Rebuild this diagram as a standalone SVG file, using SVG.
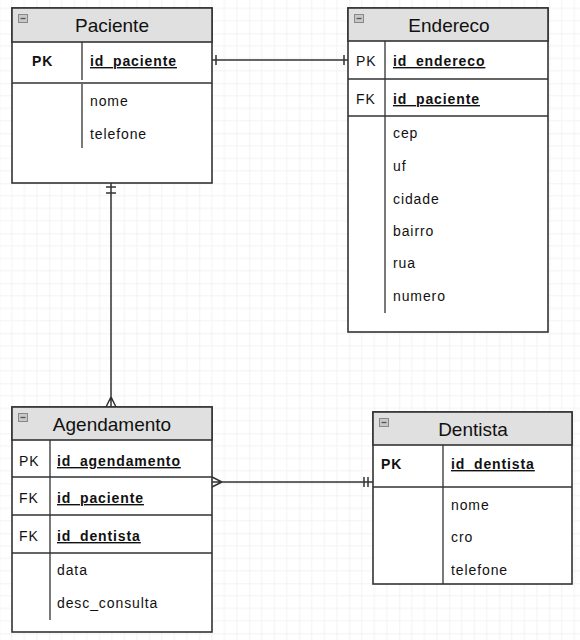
<svg xmlns="http://www.w3.org/2000/svg" width="580" height="640" viewBox="0 0 580 640">
<defs>
<pattern id="grid" x="49.3" y="33.3" width="50" height="50" patternUnits="userSpaceOnUse">
<path d="M12.5 0V50M25 0V50M37.5 0V50M0 12.5H50M0 25H50M0 37.5H50" stroke="#f3f3f3" stroke-width="1" fill="none"/>
<path d="M0 0V50M0 0H50" stroke="#e6e6e6" stroke-width="1" fill="none"/>
</pattern>
</defs>
<style>
.box{fill:#fff;stroke:#333;stroke-width:1.6}
.hdr{fill:#e0e0e0;stroke:#333;stroke-width:1.6}
.ln{stroke:#333;stroke-width:1.6;fill:none}
.div{stroke:#333;stroke-width:1.3;fill:none}
.ttl{font-family:"Liberation Sans",Arial,sans-serif;font-size:19px;fill:#111;text-anchor:middle}
.t{font-family:"Liberation Sans",Arial,sans-serif;font-size:14px;fill:#111;letter-spacing:0.9px}
.b{font-weight:bold}
.u{text-decoration:underline}
.ico{fill:#c8c8c8;stroke:#888;stroke-width:1}
.con{stroke:#333;stroke-width:1.5;fill:none}
</style>
<rect width="580" height="640" fill="#fff"/>
<rect width="580" height="640" fill="url(#grid)"/>

<g id="connectors">
<path class="con" d="M212 60H348M216 55V65M344 55V65"/>
<path class="con" d="M111 183V407M106 187H116M106 193H116M106 407L111 397L116 407"/>
<path class="con" d="M212 482H373M212 477L222 482L212 487M364 477V487M368 477V487"/>
</g>

<g id="paciente">
<rect class="box" x="12" y="8" width="200" height="175"/>
<rect class="hdr" x="12" y="8" width="200" height="34"/>
<rect class="ico" x="18.5" y="14.5" width="9" height="8"/><path d="M20.5 18.5H25.5" stroke="#555" stroke-width="1.3"/>
<text class="ttl" x="112" y="32">Paciente</text>
<path class="ln" d="M12 83H212"/>
<path class="div" d="M82 42V80M82 84V148"/>
<text class="t b" x="32" y="66">PK</text>
<text class="t b u" x="90" y="66">id_paciente</text>
<text class="t" x="90" y="106">nome</text>
<text class="t" x="90" y="139">telefone</text>
</g>

<g id="endereco">
<rect class="box" x="348" y="8" width="200" height="324"/>
<rect class="hdr" x="348" y="8" width="200" height="33"/>
<rect class="ico" x="354.5" y="14.5" width="9" height="8"/><path d="M356.5 18.5H361.5" stroke="#555" stroke-width="1.3"/>
<text class="ttl" x="449" y="32">Endereco</text>
<path class="ln" d="M348 79H548M348 116H548"/>
<path class="div" d="M385 41V116M385 116V313"/>
<text class="t" x="356" y="66">PK</text>
<text class="t b u" x="393" y="66">id_endereco</text>
<text class="t" x="356" y="104">FK</text>
<text class="t b u" x="393" y="104">id_paciente</text>
<text class="t" x="393" y="138">cep</text>
<text class="t" x="393" y="171">uf</text>
<text class="t" x="393" y="204">cidade</text>
<text class="t" x="393" y="236">bairro</text>
<text class="t" x="393" y="268">rua</text>
<text class="t" x="393" y="301">numero</text>
</g>

<g id="agendamento">
<rect class="box" x="12" y="407" width="200" height="225"/>
<rect class="hdr" x="12" y="407" width="200" height="33"/>
<rect class="ico" x="18.5" y="413.5" width="9" height="8"/><path d="M20.5 417.5H25.5" stroke="#555" stroke-width="1.3"/>
<text class="ttl" x="112" y="431">Agendamento</text>
<path class="ln" d="M12 477H212M12 515H212M12 553H212"/>
<path class="div" d="M50 440V553M50 553V620"/>
<text class="t" x="19" y="466">PK</text>
<text class="t b u" x="57" y="466">id_agendamento</text>
<text class="t" x="19" y="503">FK</text>
<text class="t b u" x="57" y="503">id_paciente</text>
<text class="t" x="19" y="541">FK</text>
<text class="t b u" x="57" y="541">id_dentista</text>
<text class="t" x="57" y="575">data</text>
<text class="t" x="57" y="608">desc_consulta</text>
</g>

<g id="dentista">
<rect class="box" x="373" y="412" width="199" height="172"/>
<rect class="hdr" x="373" y="412" width="199" height="33"/>
<rect class="ico" x="379.5" y="418.5" width="9" height="8"/><path d="M381.5 422.5H386.5" stroke="#555" stroke-width="1.3"/>
<text class="ttl" x="473" y="436">Dentista</text>
<path class="ln" d="M373 487H572"/>
<path class="div" d="M443 445V584"/>
<text class="t b" x="381" y="469">PK</text>
<text class="t b u" x="451" y="469">id_dentista</text>
<text class="t" x="451" y="510">nome</text>
<text class="t" x="451" y="542">cro</text>
<text class="t" x="451" y="575">telefone</text>
</g>
</svg>
